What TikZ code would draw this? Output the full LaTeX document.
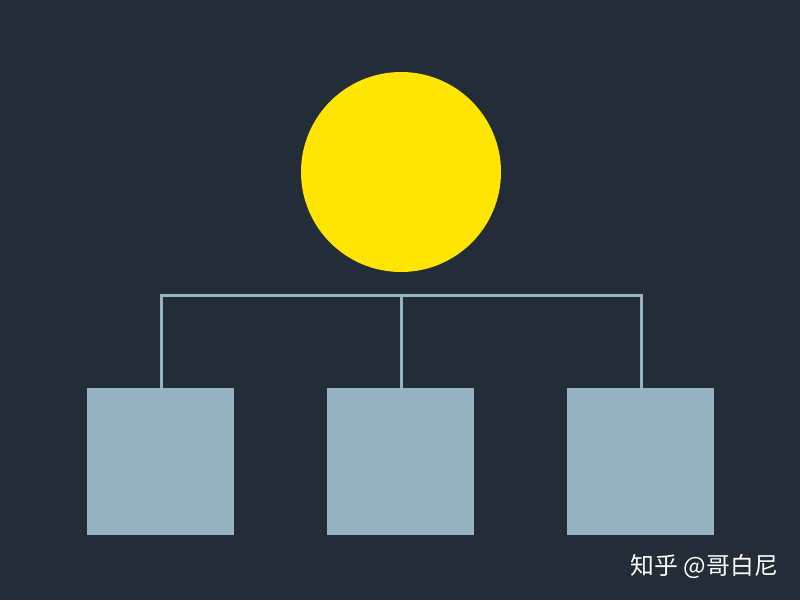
\documentclass[tikz,border=0pt]{standalone}
\usepackage{fontspec}
\newfontfamily\cjk{Noto Sans CJK SC}
\definecolor{bg}{HTML}{232D37}
\definecolor{sun}{HTML}{FFE500}
\definecolor{boxc}{HTML}{95B3C1}
\begin{document}
\begin{tikzpicture}[x=1pt,y=-1pt,
  leaf/.style={fill=boxc,draw=none,minimum width=147pt,minimum height=147pt,inner sep=0pt},
  link/.style={draw=boxc,line width=3pt}]
\fill[bg] (0,0) rectangle (800,600);
\useasboundingbox (0,0) rectangle (800,600);
\node[circle,fill=sun,minimum size=200pt,inner sep=0pt] (root) at (401,172) {};
\coordinate (hub) at (401,295.5);
\coordinate (hl) at (161.5,295.5);
\coordinate (hr) at (641.5,295.5);
\node[leaf] (a) at (160.5,461.5) {};
\node[leaf] (b) at (400.5,461.5) {};
\node[leaf] (c) at (640.5,461.5) {};
\draw[link] ([xshift=-1.5pt]hl) -- ([xshift=1.5pt]hr);
\draw[link] (hl) -- (hl |- a.north);
\draw[link] (hub) -- (hub |- b.north);
\draw[link] (hr) -- (hr |- c.north);
\node[anchor=base east,text=white,font=\cjk\fontsize{23.8}{27}\selectfont,inner sep=0pt] (wm) at (778,574) {知乎 @哥白尼};
\end{tikzpicture}
\end{document}
